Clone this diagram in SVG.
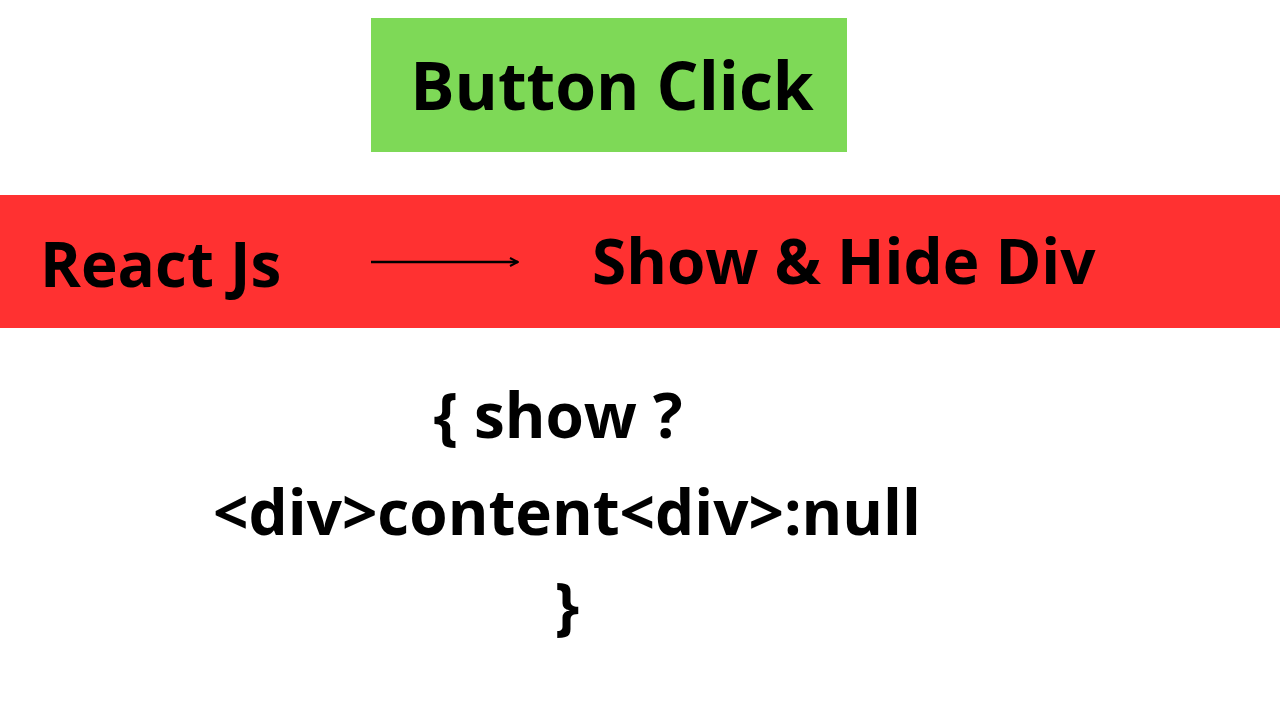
<svg xmlns="http://www.w3.org/2000/svg" width="1280" height="720" viewBox="0 0 1280 720">
<style>
.t{font-family:"Open Sans","Liberation Sans",sans-serif;font-weight:bold;fill:#000}
</style>
<defs><marker id="ah" markerWidth="10" markerHeight="10" refX="9" refY="5" orient="auto" markerUnits="userSpaceOnUse"><path d="M1,1 L9,5 L1,9" fill="none" stroke="#000" stroke-width="2"/></marker></defs>
<rect width="1280" height="720" fill="#fff"/>
<g id="button-click"><rect x="371" y="18" width="476" height="134" fill="#7ED957"/>
<text class="t" x="612" y="110" font-size="66" text-anchor="middle">Button Click</text></g>
<g id="band"><rect x="0" y="195" width="1280" height="133" fill="#FF3131"/></g>
<g id="react"><text class="t" x="40" y="287" font-size="62">React Js</text></g>
<g id="showhide"><text class="t" x="592" y="284" font-size="62">Show &amp; Hide Div</text></g>
<g id="connectors"><line x1="371" y1="262" x2="518" y2="262" stroke="#000" stroke-width="2.5" marker-end="url(#ah)"/></g>
<g id="code">
<text class="t" x="558" y="438" font-size="62" text-anchor="middle">{ show ?</text>
<text class="t" x="567" y="535" font-size="62" text-anchor="middle">&lt;div&gt;content&lt;div&gt;:null</text>
<text class="t" x="567" y="628" font-size="62" text-anchor="middle">}</text>
</g>
</svg>
